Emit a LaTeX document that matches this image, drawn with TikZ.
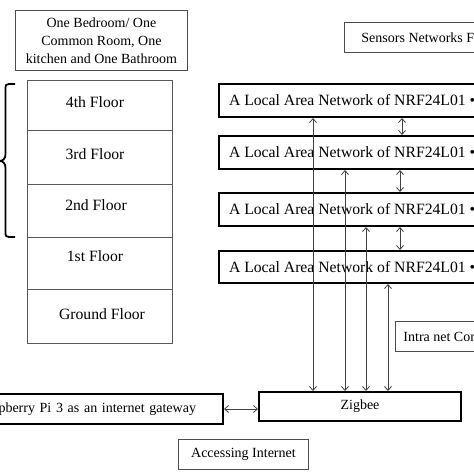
\documentclass[tikz,border=0pt]{standalone}
\usepackage{fontspec}
\setmainfont{Liberation Serif}
\usetikzlibrary{arrows.meta}
\begin{document}
\begin{tikzpicture}[x=1pt,y=-1pt,
  thinbox/.style={draw=black!70, line width=0.9pt, inner sep=0pt},
  thickbox/.style={draw=black, line width=2pt, inner sep=0pt},
  cell/.style={draw=black!65, line width=0.9pt, minimum width=145pt, inner sep=0pt, anchor=north west},
  big/.style={font=\fontsize{15.7}{18}\selectfont},
  small/.style={font=\fontsize{14}{18}\selectfont},
  lan/.style={thickbox, big, anchor=north west, inner xsep=10pt},
  conn/.style={draw=black!75, line width=0.8pt, {Straight Barb[length=4pt,width=7pt]}-{Straight Barb[length=4pt,width=7pt]}},
]
\useasboundingbox (0,0) rectangle (474,474);
\clip (0,0) rectangle (474,474);

% title box
\node[thinbox, small, minimum width=172pt, minimum height=60pt, anchor=north west, align=center] (title) at (15,10)
  {One Bedroom/ One\\Common Room, One\\kitchen and One Bathroom};

% floors
\node[cell, minimum height=50pt] (f4) at (27,80) {};
\node[cell, minimum height=54pt] (f3) at (27,130) {};
\node[cell, minimum height=53pt] (f2) at (27,184) {};
\node[cell, minimum height=52pt] (f1) at (27,237) {};
\node[cell, minimum height=54pt] (f0) at (27,289) {};
\node[big] (t4) at (95,102) {4th Floor};
\node[big] (t3) at (95,154) {3rd Floor};
\node[big] (t2) at (96,205) {2nd Floor};
\node[big] (t1) at (95,256) {1st Floor};
\node[big] (t0) at (102,314) {Ground Floor};

% brace
\draw[line width=1.8pt] (15,84) -- (9,84) .. controls (6,84) and (5.5,85) .. (5.5,89) -- (5.5,154)
  .. controls (5.5,159) and (3,161) .. (-1,161) .. controls (3,161) and (5.5,163) .. (5.5,168)
  -- (5.5,232) .. controls (5.5,236) and (6,237) .. (9,237) -- (15,237);

% sensors box
\node[thinbox, small, anchor=north west, minimum height=30pt, inner xsep=17pt] (sens) at (344,22) {Sensors Networks For Each Floor};

% LAN boxes
\node[lan, minimum height=33pt] (l1) at (218,83) {A Local Area Network of NRF24L01 \textbullet};
\node[lan, minimum height=33pt] (l2) at (218,135) {A Local Area Network of NRF24L01 \textbullet};
\node[lan, minimum height=33pt] (l3) at (218,192) {A Local Area Network of NRF24L01 \textbullet};
\node[lan, minimum height=32pt] (l4) at (218,250) {A Local Area Network of NRF24L01 \textbullet};

% intranet box
\node[thinbox, small, anchor=north west, minimum height=30pt, inner xsep=8pt] (intra) at (395,321) {Intra net Communication};

% zigbee
\node[thickbox, small, anchor=north west, minimum width=202pt, minimum height=29pt] (zig) at (258,391) {Zigbee};

% raspberry
\node[thickbox, small, anchor=north east, minimum height=30pt, text width=230pt, align=right, inner xsep=27pt] (rasp) at (224,393)
  {Raspberry Pi 3 as an internet gateway};

% accessing internet
\node[thinbox, small, anchor=north west, minimum width=130pt, minimum height=30pt] (acc) at (178,439) {Accessing Internet};

% connectors
\coordinate (v1) at (313,0);
\coordinate (v2) at (345,0);
\coordinate (v3) at (366,0);
\coordinate (v4) at (388,0);
\coordinate (s1) at (402,0);
\coordinate (s2) at (400,0);
\draw[conn] (l1.south -| v1) -- (zig.north -| v1);
\draw[conn] (l2.south -| v2) -- (zig.north -| v2);
\draw[conn] (l3.south -| v3) -- (zig.north -| v3);
\draw[conn] (l4.south -| v4) -- (zig.north -| v4);
\draw[conn] (l1.south -| s1) -- (l2.north -| s1);
\draw[conn] (l2.south -| s2) -- (l3.north -| s2);
\draw[conn] (l3.south -| s2) -- (l4.north -| s2);
\draw[conn] (rasp.east) -- (rasp.east -| zig.west);
\end{tikzpicture}
\end{document}
